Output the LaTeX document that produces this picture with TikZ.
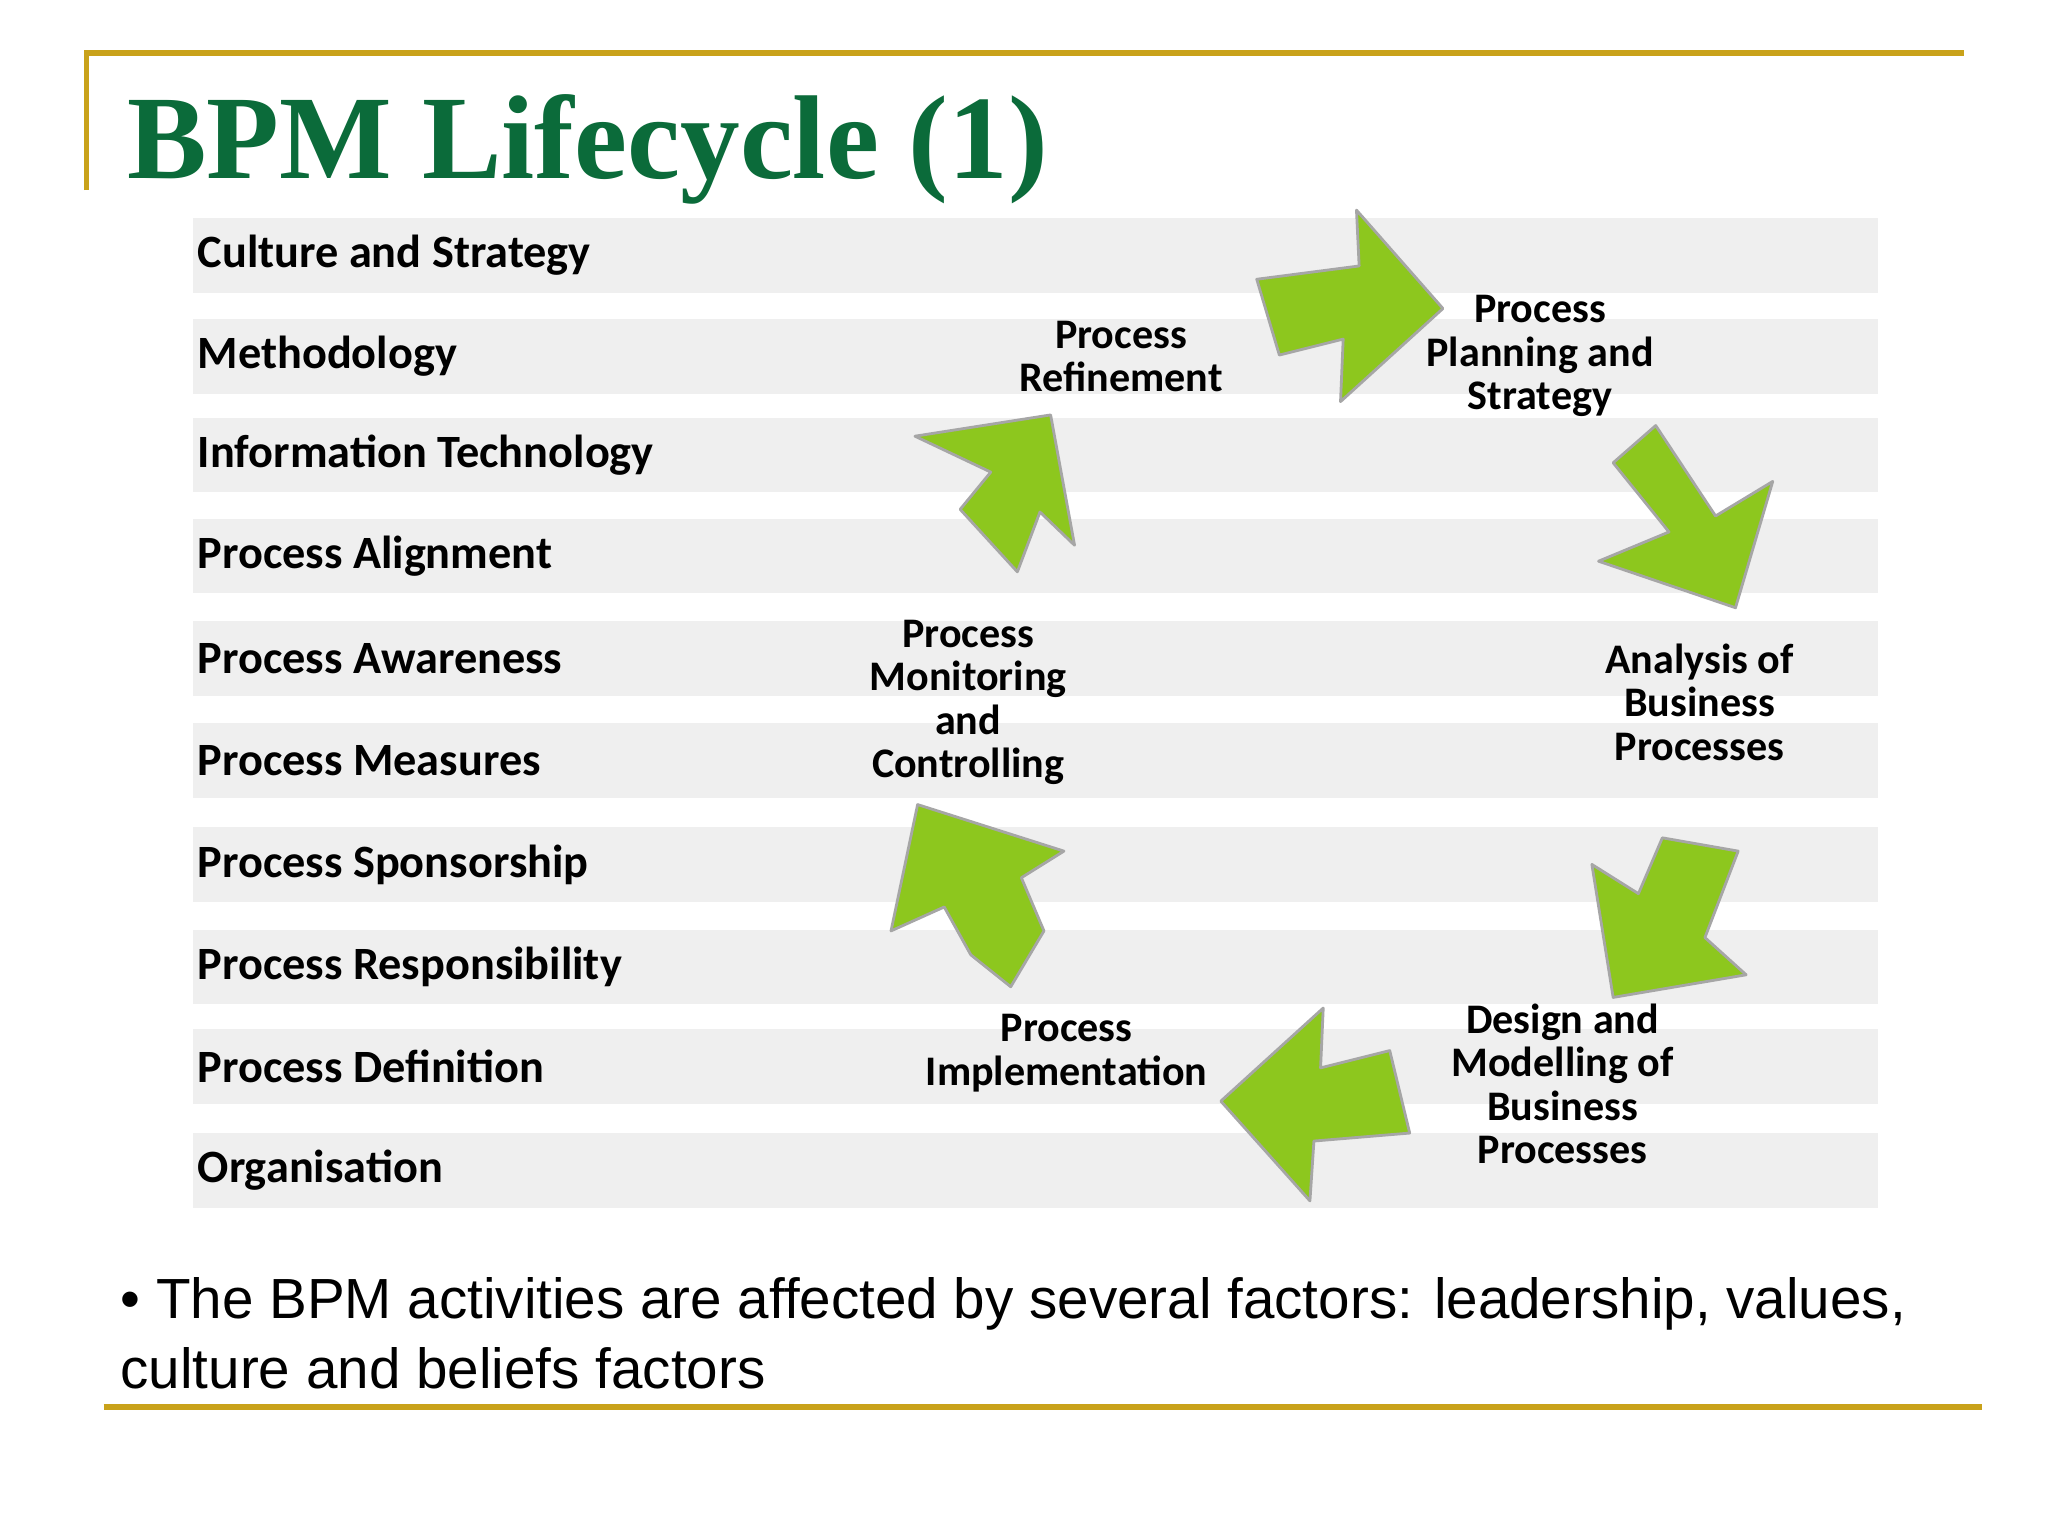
\documentclass[tikz,border=0pt]{standalone}
\usepackage{fontspec}
\setmainfont{Liberation Serif}
\newfontfamily\carlfont{Carlito}
\newfontfamily\arifont{Liberation Sans}
\definecolor{gold}{HTML}{C9A21A}
\definecolor{tgreen}{HTML}{0B6B3A}
\definecolor{agreen}{HTML}{8DC71E}
\definecolor{band}{HTML}{EFEFEF}
\begin{document}
\begin{tikzpicture}[x=0.01cm,y=-0.01cm,
  lab/.style={font=\carlfont\bfseries\fontsize{9.9}{11}\selectfont,anchor=west,inner sep=0},
  cyc/.style={font=\carlfont\bfseries\fontsize{9.0}{9.3}\selectfont,align=center,inner sep=0},
  arr/.style={fill=agreen,draw=gray!70,line width=0.6pt,line join=round}]
\useasboundingbox (0,0) rectangle (1540,1155);
\fill[white] (0,0) rectangle (1540,1155);
% frame lines
\draw[gold,line width=1.2pt] (65,143) -- (65,40) -- (1477,40);
\draw[gold,line width=1.2pt] (78,1058) -- (1490,1058);
\node[font=\bfseries\fontsize{25.5}{28}\selectfont,text=tgreen,anchor=west,inner sep=0] (title) at (95,112) {BPM Lifecycle (1)};
% bands
\foreach \y in {192,268,342,418,495,572,650,727,802,880}
  \fill[band] (145,\y-28) rectangle (1412,\y+28);
\node[lab] (l1) at (148,192) {Culture and Strategy};
\node[lab] (l2) at (148,268) {Methodology};
\node[lab] (l3) at (148,342) {Information Technology};
\node[lab] (l4) at (148,418) {Process Alignment};
\node[lab] (l5) at (148,495) {Process Awareness};
\node[lab] (l6) at (148,572) {Process Measures};
\node[lab] (l7) at (148,650) {Process Sponsorship};
\node[lab] (l8) at (148,727) {Process Responsibility};
\node[lab] (l9) at (148,802) {Process Definition};
\node[lab] (l10) at (148,880) {Organisation};
% cycle labels
\node[cyc] (c1) at (843,268) {Process\\Refinement};
\node[cyc] (c2) at (1158,268) {Process\\Planning and\\Strategy};
\node[cyc] (c3) at (1278,528) {Analysis of\\Business\\Processes};
\node[cyc] (c4) at (1175,815) {Design and\\Modelling of\\Business\\Processes};
\node[cyc] (c5) at (802,792) {Process\\Implementation};
\node[cyc] (c6) at (728,528) {Process\\Monitoring\\and\\Controlling};
% arrows
\draw[arr] (945,210) -- (1022,200) -- (1020,158) -- (1085,232) -- (1008,302) -- (1010,255) -- (962,267) -- cycle;
\draw[arr] (1213,348) -- (1245,320) -- (1290,388) -- (1333,362) -- (1305,457) -- (1202,422) -- (1255,400) -- cycle;
\draw[arr] (1250,630) -- (1307,640) -- (1282,705) -- (1313,733) -- (1213,750) -- (1197,650) -- (1232,672) -- cycle;
\draw[arr] (1045,790) -- (1060,852) -- (988,858) -- (985,903) -- (918,828) -- (995,758) -- (993,803) -- cycle;
\draw[arr] (730,718) -- (710,682) -- (670,700) -- (690,605) -- (800,640) -- (768,660) -- (785,700) -- (760,742) -- cycle;
\draw[arr] (722,383) -- (745,355) -- (688,328) -- (790,312) -- (808,410) -- (782,385) -- (765,430) -- cycle;
% bullet text
\node[font=\arifont\fontsize{12.1}{15}\selectfont,anchor=north west,align=left,inner sep=0] (txt) at (90,960)
 {\textbullet\ The BPM activities are affected by several factors: leadership, values,\\culture and beliefs factors};
\end{tikzpicture}
\end{document}
